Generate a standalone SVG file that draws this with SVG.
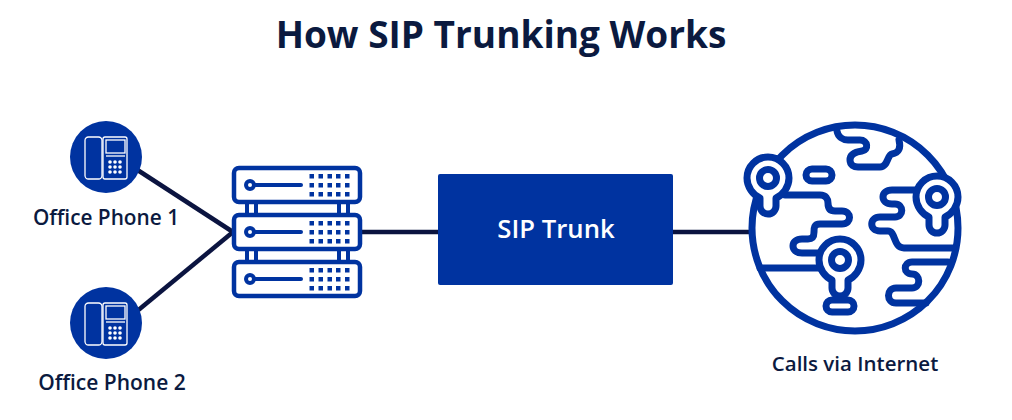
<svg xmlns="http://www.w3.org/2000/svg" width="1012" height="420" viewBox="0 0 1012 420">
<style>
text{font-family:"Open Sans","Noto Sans","Liberation Sans",sans-serif;font-weight:600;fill:#0b1a3f;text-anchor:middle}
.b{fill:none;stroke:#0033a0;stroke-width:7;stroke-linecap:round;stroke-linejoin:round}
.s{fill:#fff;stroke:#0033a0;stroke-width:4.5;stroke-linejoin:round}
.p{fill:none;stroke:#fff;stroke-width:1.3}
.c{fill:none;stroke:#0b1440;stroke-width:4.5}
.w{fill:#fff;stroke:#0033a0;stroke-width:7;stroke-linejoin:round}
</style>
<defs>
<g id="phone">
<circle r="36" fill="#0033a0"/>
<rect x="-21" y="-20" width="17" height="42" rx="3.500" class="p"/>
<rect x="-3" y="-20" width="24" height="42" rx="2" class="p"/>
<rect x="0" y="-17" width="19" height="13" class="p"/>
<line x1="0" y1="-1" x2="19" y2="-1" class="p"/>
<g fill="#fff"><circle cx="4" cy="5" r="1.800"/><circle cx="9" cy="5" r="1.800"/><circle cx="14" cy="5" r="1.800"/><circle cx="4" cy="10" r="1.800"/><circle cx="9" cy="10" r="1.800"/><circle cx="14" cy="10" r="1.800"/><circle cx="4" cy="15" r="1.800"/><circle cx="9" cy="15" r="1.800"/><circle cx="14" cy="15" r="1.800"/></g>
</g>
<g id="unit">
<rect x="0" y="0" width="126" height="34" rx="5" class="s"/>
<circle cx="16" cy="17" r="4" fill="#fff" stroke="#0033a0" stroke-width="4"/>
<line x1="21" y1="17" x2="67" y2="17" stroke="#0033a0" stroke-width="4" stroke-linecap="round"/>
<g fill="#0033a0"><rect x="75.500" y="6" width="4.500" height="4.500"/><rect x="84.500" y="6" width="4.500" height="4.500"/><rect x="93.500" y="6" width="4.500" height="4.500"/><rect x="102" y="6" width="4.500" height="4.500"/><rect x="111" y="6" width="4.500" height="4.500"/>
<rect x="75.500" y="15" width="4.500" height="4.500"/><rect x="84.500" y="15" width="4.500" height="4.500"/><rect x="93.500" y="15" width="4.500" height="4.500"/><rect x="102" y="15" width="4.500" height="4.500"/><rect x="111" y="15" width="4.500" height="4.500"/>
<rect x="75.500" y="24" width="4.500" height="4.500"/><rect x="84.500" y="24" width="4.500" height="4.500"/><rect x="93.500" y="24" width="4.500" height="4.500"/><rect x="102" y="24" width="4.500" height="4.500"/><rect x="111" y="24" width="4.500" height="4.500"/></g>
</g>
<path id="pin" d="M-8 20 L-8 28 A8 8 0 0 0 8 28 L8 20 C15 17 21 9 21 0 A21 21 0 0 0 -21 0 C-21 9 -15 17 -8 20 Z"/>
</defs>
<text x="501" y="48" font-size="37" style="font-weight:700">How SIP Trunking Works</text>
<g id="connectors">
<line x1="136" y1="169" x2="233" y2="232" class="c"/>
<line x1="136" y1="312" x2="233" y2="232" class="c"/>
<line x1="360" y1="232" x2="440" y2="232" class="c"/>
<line x1="672" y1="232" x2="752" y2="232" class="c"/>
</g>
<g id="phone1"><use href="#phone" x="106" y="157"/><text x="106" y="225" font-size="20.800">Office Phone 1</text></g>
<g id="phone2"><use href="#phone" x="106" y="323"/><text x="112" y="390" font-size="21">Office Phone 2</text></g>
<g id="server">
<g fill="#fff" stroke="#0033a0" stroke-width="4"><rect x="247" y="200" width="9" height="16"/><rect x="339" y="200" width="9" height="16"/><rect x="247" y="247" width="9" height="16"/><rect x="339" y="247" width="9" height="16"/></g>
<use href="#unit" x="234" y="168"/><use href="#unit" x="234" y="215"/><use href="#unit" x="234" y="262"/>
</g>
<g id="trunk"><rect x="438" y="174" width="235" height="111" rx="2" fill="#0033a0"/><text x="556" y="238" font-size="25.700" style="fill:#fff">SIP Trunk</text></g>
<g id="globe">
<circle cx="855" cy="228" r="103" fill="#fff" stroke="#0033a0" stroke-width="7"/>
<path class="b" d="M837 131 C838 137 843 140 848 140 H860 C868 140 869 150 862 151 C855 152 850 155 850 160 C850 165 854 167 858 167 H880 C888 167 887 155 892 154 C899 153 901 148 899 140"/>
<rect x="806" y="169" width="26" height="12" rx="6" class="b"/>
<path class="b" d="M785 195 H820 C826 195 828 199 828 203 C828 208 830 211 835 211 H842 C852 211 852 224 842 224 H820 C814 224 814 228 814 232 C814 237 812 239 808 239 H802 C790 239 790 253 802 253 H826"/>
<path class="b" d="M760 268 H826"/>
<path class="b" d="M918 190 H892 C880 190 880 204 892 204 H895 C904 204 904 217 895 217 H880 C869 217 869 231 880 231 H888 C896 231 893 248 904 248 H953"/>
<path class="b" d="M948 262 H912 C903 262 903 274 912 274 C921 274 921 288 912 288 H896 C886 288 886 303 896 303 H926"/>
<use href="#pin" x="768" y="178" class="w"/><circle cx="768" cy="178" r="8.500" class="b"/>
<use href="#pin" x="937" y="197" class="w"/><circle cx="937" cy="197" r="8.500" class="b"/>
<use href="#pin" x="840" y="260" class="w"/><circle cx="840" cy="260" r="8.500" class="b"/>
<rect x="826" y="300" width="28" height="12" rx="6" class="w"/>
<text x="855" y="371" font-size="20.500">Calls via Internet</text>
</g>
</svg>
